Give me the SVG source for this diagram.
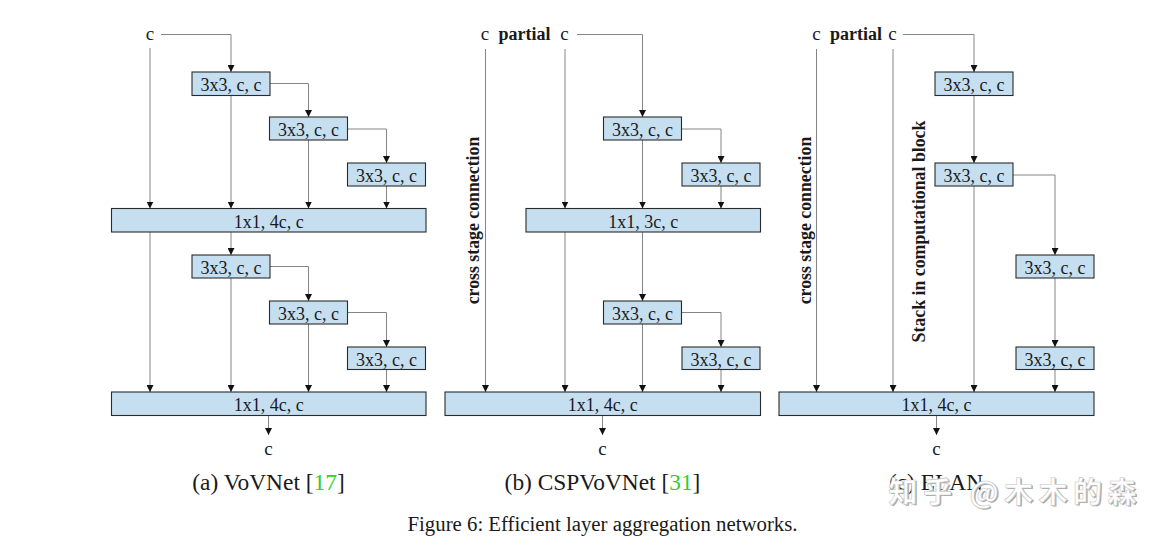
<svg xmlns="http://www.w3.org/2000/svg" width="1170" height="546" viewBox="0 0 1170 546">
<style>
  text { font-family: "Liberation Serif", "Times New Roman", serif; fill: #1a1a1a; }
  .box rect { fill: #c5dff1; stroke: #2a2a2a; stroke-width: 1.1; }
  .box text { font-size: 18px; text-anchor: middle; }
  .lbl { font-size: 19px; text-anchor: middle; }
  .bold { font-size: 18px; font-weight: bold; text-anchor: middle; }
  .rot { font-size: 17.8px; font-weight: bold; text-anchor: middle; }
  .cap { font-size: 23.4px; text-anchor: middle; }
  .ref { fill: #33cc33; }
  .conn path { fill: none; stroke: #858585; stroke-width: 1; marker-end: url(#ah); }
  .wm { font-family: "Noto Sans CJK SC", "Noto Sans", sans-serif; font-size: 29px; font-weight: bold; }
</style>
<defs>
  <marker id="ah" viewBox="0 0 8 8" markerUnits="userSpaceOnUse" markerWidth="7" markerHeight="7" refX="8" refY="4" orient="auto">
    <path d="M0,0 L8,4 L0,8 z" fill="#111"/>
  </marker>
</defs>
<rect width="1170" height="546" fill="#ffffff"/>

<!-- connectors -->
<g id="connectors" class="conn">
  <!-- panel a -->
  <path d="M161,34.5 H231 V72"/>
  <path d="M150,48 V208.5"/>
  <path d="M231,95.5 V208.5"/>
  <path d="M270,83.5 H308.5 V117"/>
  <path d="M308.5,140 V208.5"/>
  <path d="M347.5,129 H386.5 V163"/>
  <path d="M386.5,186 V208.5"/>
  <path d="M150,232 V392"/>
  <path d="M231,232 V255"/>
  <path d="M270,266.5 H308.5 V301"/>
  <path d="M231,278 V392"/>
  <path d="M347.5,312.5 H386.5 V347"/>
  <path d="M308.5,324 V392"/>
  <path d="M386.5,369.5 V392"/>
  <path d="M268.5,415.5 V435"/>
  <!-- panel b -->
  <path d="M577,34.5 H642.5 V117"/>
  <path d="M485.5,49 V392"/>
  <path d="M565,49 V208.5"/>
  <path d="M642.5,140 V208.5"/>
  <path d="M681.5,129 H721 V163"/>
  <path d="M721,186 V208.5"/>
  <path d="M565,232 V392"/>
  <path d="M642.5,232 V301"/>
  <path d="M681.5,312.5 H721 V347"/>
  <path d="M642.5,324 V392"/>
  <path d="M721,369.5 V392"/>
  <path d="M602.5,415.5 V435"/>
  <!-- panel c -->
  <path d="M903,34.5 H974 V72"/>
  <path d="M816.5,49 V392"/>
  <path d="M893,49 V392"/>
  <path d="M974,95.5 V163"/>
  <path d="M974,186 V392"/>
  <path d="M1013,175 H1055 V255"/>
  <path d="M1055,278 V347"/>
  <path d="M1055,369.5 V392"/>
  <path d="M936.5,415.5 V435"/>
</g>

<!-- panel a nodes -->
<g id="a-in"><text class="lbl" x="150" y="40">c</text></g>
<g id="a1" class="box"><rect x="192" y="72" width="78" height="23.5"/><text x="231" y="91">3x3, c, c</text></g>
<g id="a2" class="box"><rect x="269.5" y="117" width="78" height="23"/><text x="308.5" y="136">3x3, c, c</text></g>
<g id="a3" class="box"><rect x="347.5" y="163" width="78" height="23"/><text x="386.5" y="182">3x3, c, c</text></g>
<g id="a-t1" class="box"><rect x="111.5" y="208.5" width="314.5" height="23.5"/><text x="268.75" y="227.5">1x1, 4c, c</text></g>
<g id="a4" class="box"><rect x="192" y="255" width="78" height="23"/><text x="231" y="274">3x3, c, c</text></g>
<g id="a5" class="box"><rect x="269.5" y="301" width="78" height="23"/><text x="308.5" y="320">3x3, c, c</text></g>
<g id="a6" class="box"><rect x="347.5" y="347" width="78" height="22.5"/><text x="386.5" y="366">3x3, c, c</text></g>
<g id="a-t2" class="box"><rect x="111.5" y="392" width="314.5" height="23.5"/><text x="268.75" y="411">1x1, 4c, c</text></g>
<g id="a-out"><text class="lbl" x="268.5" y="455">c</text></g>
<g id="a-cap"><text class="cap" x="268.5" y="490">(a) VoVNet [<tspan class="ref">17</tspan>]</text></g>

<!-- panel b nodes -->
<g id="b-in">
  <text class="lbl" x="485" y="40">c</text>
  <text class="bold" x="524.5" y="40">partial</text>
  <text class="lbl" x="564.5" y="40">c</text>
</g>
<g id="b-csc"><text class="rot" transform="translate(478.5,220.5) rotate(-90)">cross stage connection</text></g>
<g id="b1" class="box"><rect x="603.5" y="117" width="78" height="23"/><text x="642.5" y="136">3x3, c, c</text></g>
<g id="b2" class="box"><rect x="682" y="163" width="78" height="23"/><text x="721" y="182">3x3, c, c</text></g>
<g id="b-t1" class="box"><rect x="526" y="208.5" width="234.5" height="23.5"/><text x="643.25" y="227.5">1x1, 3c, c</text></g>
<g id="b3" class="box"><rect x="603.5" y="301" width="78" height="23"/><text x="642.5" y="320">3x3, c, c</text></g>
<g id="b4" class="box"><rect x="682" y="347" width="78" height="22.5"/><text x="721" y="366">3x3, c, c</text></g>
<g id="b-t2" class="box"><rect x="445" y="392" width="315.5" height="23.5"/><text x="602.75" y="411">1x1, 4c, c</text></g>
<g id="b-out"><text class="lbl" x="602.5" y="455">c</text></g>
<g id="b-cap"><text class="cap" x="602.5" y="490">(b) CSPVoVNet [<tspan class="ref">31</tspan>]</text></g>

<!-- panel c nodes -->
<g id="c-in">
  <text class="lbl" x="816.5" y="40">c</text>
  <text class="bold" x="856" y="40">partial</text>
  <text class="lbl" x="892.5" y="40">c</text>
</g>
<g id="c-csc"><text class="rot" transform="translate(810.5,220.5) rotate(-90)">cross stage connection</text></g>
<g id="c-stack"><text class="rot" transform="translate(925,231.5) rotate(-90)">Stack in computational block</text></g>
<g id="c1" class="box"><rect x="935" y="72" width="78" height="23.5"/><text x="974" y="91">3x3, c, c</text></g>
<g id="c2" class="box"><rect x="935" y="163" width="78" height="23"/><text x="974" y="182">3x3, c, c</text></g>
<g id="c3" class="box"><rect x="1016" y="255" width="78" height="23"/><text x="1055" y="274">3x3, c, c</text></g>
<g id="c4" class="box"><rect x="1016" y="347" width="78" height="22.5"/><text x="1055" y="366">3x3, c, c</text></g>
<g id="c-t" class="box"><rect x="779" y="392" width="315" height="23.5"/><text x="936.5" y="411">1x1, 4c, c</text></g>
<g id="c-out"><text class="lbl" x="936.5" y="455">c</text></g>
<g id="c-cap"><text class="cap" x="936" y="490">(c) ELAN</text></g>

<!-- watermark -->
<g id="watermark">
  <text class="wm" x="890" y="504" textLength="248" style="fill:#a8a8a8;">知乎 @木木的森</text>
  <text class="wm" x="888.5" y="502.5" textLength="248" style="fill:#ffffff; stroke:#c4c4c4; stroke-width:0.6;">知乎 @木木的森</text>
</g>

<g id="figcap"><text x="602.5" y="531" style="font-size:20.8px; text-anchor:middle;">Figure 6: Efficient layer aggregation networks.</text></g>
</svg>
